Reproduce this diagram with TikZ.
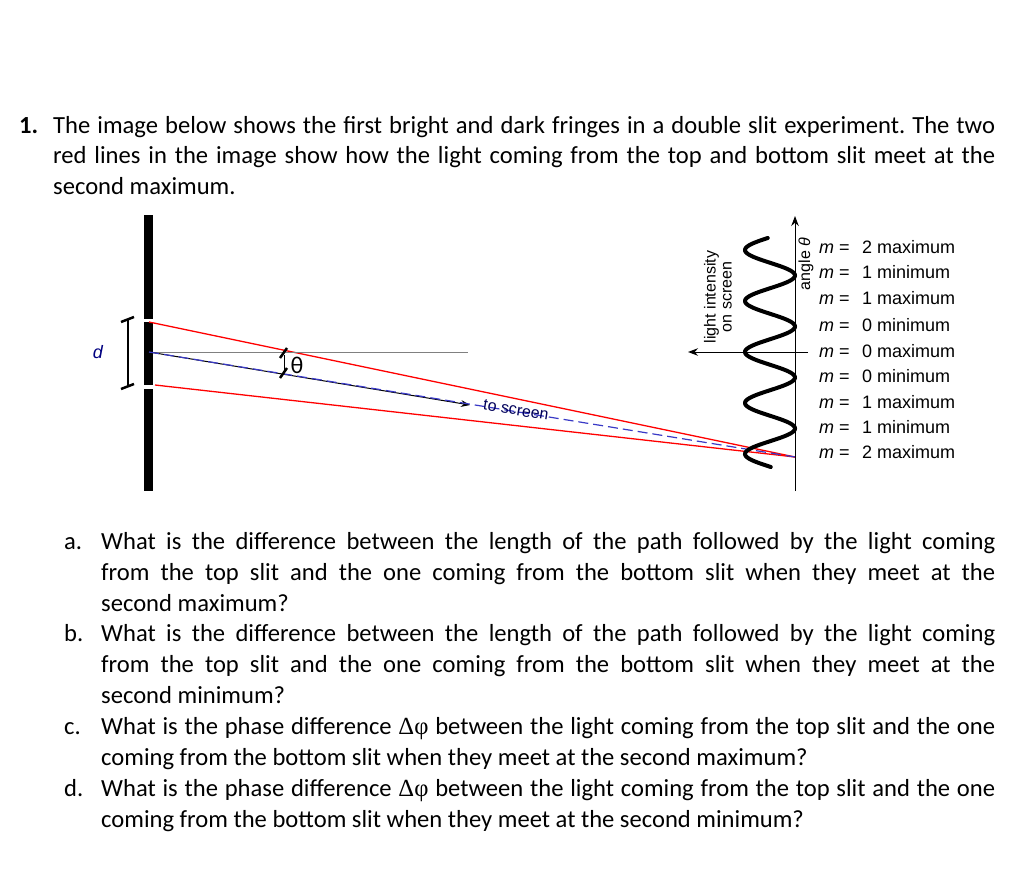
\documentclass[tikz,border=0pt]{standalone}
\usepackage{fontspec}
\setmainfont{Carlito}
\newfontfamily\arialf{Liberation Sans}
\newfontfamily\symf{Liberation Serif}
\usetikzlibrary{arrows.meta}
\begin{document}
\frenchspacing
\begin{tikzpicture}[x=1pt,y=-1pt,
  txt/.style={anchor=base west,inner sep=0pt,font=\fontsize{24.6}{28}\selectfont},
  lab/.style={anchor=base west,inner sep=0pt,font=\arialf\fontsize{18}{20}\selectfont},
  redray/.style={red,line width=1.3pt}]
\useasboundingbox (0,0) rectangle (1024,890);
% question text
\node[txt,font=\bfseries\fontsize{24.6}{28}\selectfont] (n1) at (19,134) {1.};
\node[txt] (l1) at (53,134) {\makebox[942pt][s]{The image below shows the first bright and dark fringes in a double slit experiment. The two}};
\node[txt] (l2) at (53,164) {\makebox[942pt][s]{red lines in the image show how the light coming from the top and bottom slit meet at the}};
\node[txt] (l3) at (53,195) {second maximum.};
% barrier
\fill (144,215) rectangle (153,319);
\fill (144,322) rectangle (153,385);
\fill (144,389) rectangle (153,491);
% d bracket
\coordinate (dt) at (128,320); \coordinate (db) at (128,387);
\draw[line width=1.5pt] (dt) -- (db);
\draw[line width=2.5pt] (121,322) -- (134,317) (121,389) -- (134,384);
\node[font=\arialf\itshape\fontsize{18}{20}\selectfont,text=blue!50!black] (d) at (98,352) {d};
% rays
\coordinate (s1) at (149,322); \coordinate (s2) at (155,385); \coordinate (sm) at (149,352);
\coordinate (P) at (795,457);
\draw[redray] (s1) -- (P);
\draw[redray] (s2) -- (P);
\coordinate (hz) at (468,352);
\draw[gray,line width=1pt] (sm) -- (hz);
\coordinate (ar) at (470,405);
\draw[line width=1pt,-{Stealth[length=9pt]}] (sm) -- (ar);
\draw[blue!55!gray,dash pattern=on 10pt off 5pt,line width=1.2pt] (sm) -- (P);
\node[font=\arialf\fontsize{16}{18}\selectfont,rotate=-9.4,text=blue!35!black] (ts) at (516,410) {to screen};
% theta
\draw[line width=1pt] (284,355) -- (284,372);
\draw[line width=2.5pt] (280,358) -- (287,348) (280,378) -- (287,368);
\node[font=\fontsize{24}{24}\selectfont] (th) at (297,365) {θ};
% intensity axes
\coordinate (vb) at (795,491); \coordinate (vt) at (795,216);
\draw[line width=1pt,-{Stealth[length=10pt]}] (vb) -- (vt);
\coordinate (hr) at (808,352); \coordinate (hl) at (688,352);
\draw[line width=1pt,-{Stealth[length=10pt]}] (hr) -- (hl);
\draw[line width=4pt,line cap=round,domain=-114:115,samples=250,variable=\t]
  plot ({770-25*cos(7.06*\t)},{352+\t});
\node[rotate=90,align=center,font=\arialf\fontsize{16}{16}\selectfont] (li) at (718,297) {light intensity\\on screen};
\node[rotate=90,font=\arialf\fontsize{16}{16}\selectfont] (an) at (806,264) {angle \textit{θ}};
% m labels
\foreach \y/\tx [count=\i] in {248/2 maximum,273/1 minimum,299/1 maximum,325/0 minimum,351/0 maximum,376/0 minimum,402/1 maximum,427/1 minimum,452/2 maximum}{
  \node[lab] (m\i) at (819,\y+6) {\textit{m} =};
  \node[lab] (v\i) at (862,\y+6) {\tx};
}
% parts
\foreach \y/\lt/\body/\s in {
 549/a./What is the difference between the length of the path followed by the light coming/1,
 580/{}/from the top slit and the one coming from the bottom slit when they meet at the/1,
 611/{}/second maximum?/0,
 641/b./What is the difference between the length of the path followed by the light coming/1,
 672/{}/from the top slit and the one coming from the bottom slit when they meet at the/1,
 703/{}/second minimum?/0,
 734/c./What is the phase difference {\symf Δφ} between the light coming from the top slit and the one/1,
 765/{}/coming from the bottom slit when they meet at the second maximum?/0,
 796/d./What is the phase difference {\symf Δφ} between the light coming from the top slit and the one/1,
 827/{}/coming from the bottom slit when they meet at the second minimum?/0}{
  \node[txt] at (64,\y) {\lt};
  \ifnum\s=1
    \node[txt] at (101,\y) {\makebox[894pt][s]{\body}};
  \else
    \node[txt] at (101,\y) {\body};
  \fi
}
\end{tikzpicture}
\end{document}
